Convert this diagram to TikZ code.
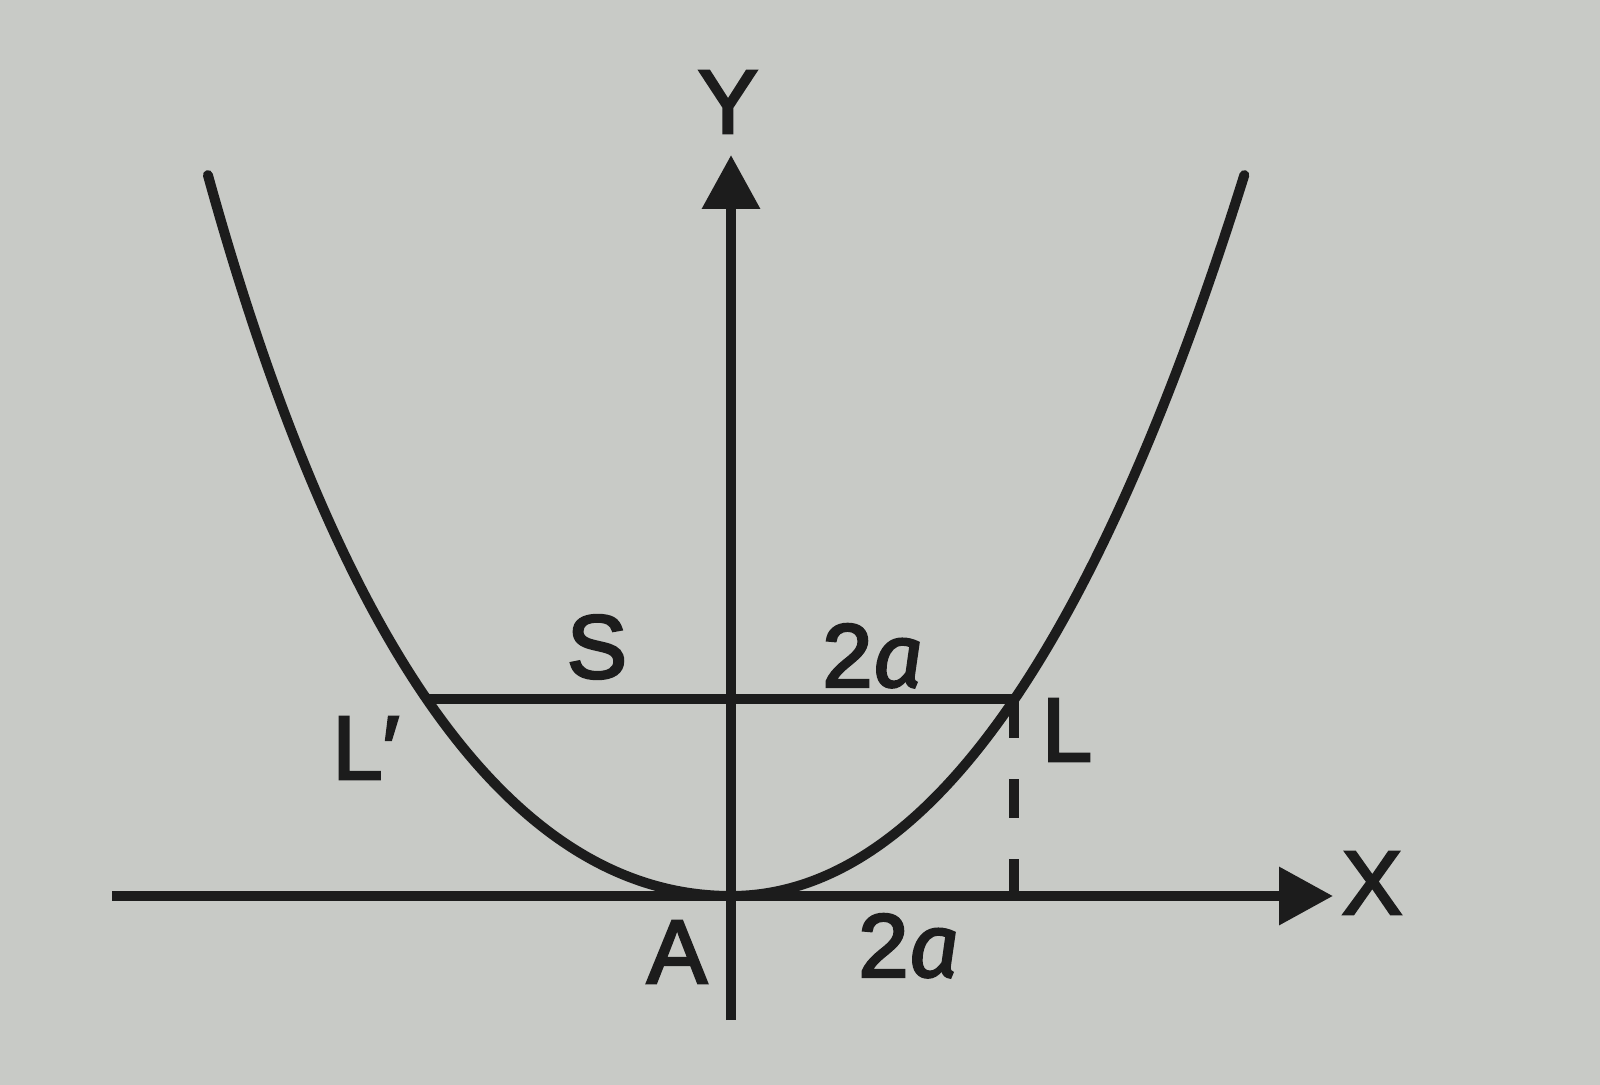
\documentclass[tikz,border=0pt]{standalone}
\usepackage{fontspec}
\setmainfont{Liberation Sans}[BoldFont=Liberation Sans,BoldFeatures={FakeBold=3}]
\newfontfamily\firait{Fira Sans Italic}[BoldFont=Fira Sans Italic,BoldFeatures={FakeBold=2}]
\usetikzlibrary{arrows.meta}
\definecolor{paper}{RGB}{200,202,198}
\definecolor{ink}{RGB}{28,28,28}
\begin{document}
\begin{tikzpicture}[x=0.5pt,y=-0.5pt,
  ink/.style={draw=ink,line width=5pt},
  axis/.style={ink,-{Triangle[length=27pt,width=28pt]}},
  lbl/.style={inner sep=0pt,text=ink,font=\fontsize{45}{50}\selectfont\bfseries},
  curve/.style={ink,line cap=round,line join=round}]
\fill[paper] (0,0) rectangle (1600,1085);
\useasboundingbox (0,0) rectangle (1600,1085);
% coordinates
\coordinate (A) at (731,896);
\coordinate (Lp) at (427,699);
\coordinate (L) at (1014,699);
\coordinate (xl) at (112,896);
\coordinate (xr) at (1333,896);
\coordinate (yb) at (731,1020);
\coordinate (yt) at (731,155);
% axes
\draw[axis] (xl) -- (xr);
\draw[axis] (yb) -- (yt);
% parabola
\draw[curve] plot[domain=26.85:0,samples=90,variable=\t,smooth]
    ({731-24.1*\t+0.172*\t*\t},{896-\t*\t})
  -- plot[domain=0:26.85,samples=90,variable=\t,smooth]
    ({731+21.4*\t-0.085*\t*\t},{896-\t*\t});
% latus rectum
\draw[ink] (Lp) -- (L);
\draw[ink,dash pattern=on 19.5pt off 20.5pt] (L) -- (L |- A);
% labels
\node[lbl] (ylab) at (728,102) {Y};
\node[lbl] (xlab) at (1372,883) {X};
\node[lbl] (slab) at (597,647) {S};
\node[lbl] (top2a) at (873,656) {2{\firait a}};
\node[lbl] (lplab) at (366,748) {L′};
\node[lbl] (llab) at (1067,730) {L};
\node[lbl] (alab) at (677,952) {A};
\node[lbl] (bot2a) at (909,946) {2{\firait a}};
\end{tikzpicture}
\end{document}
